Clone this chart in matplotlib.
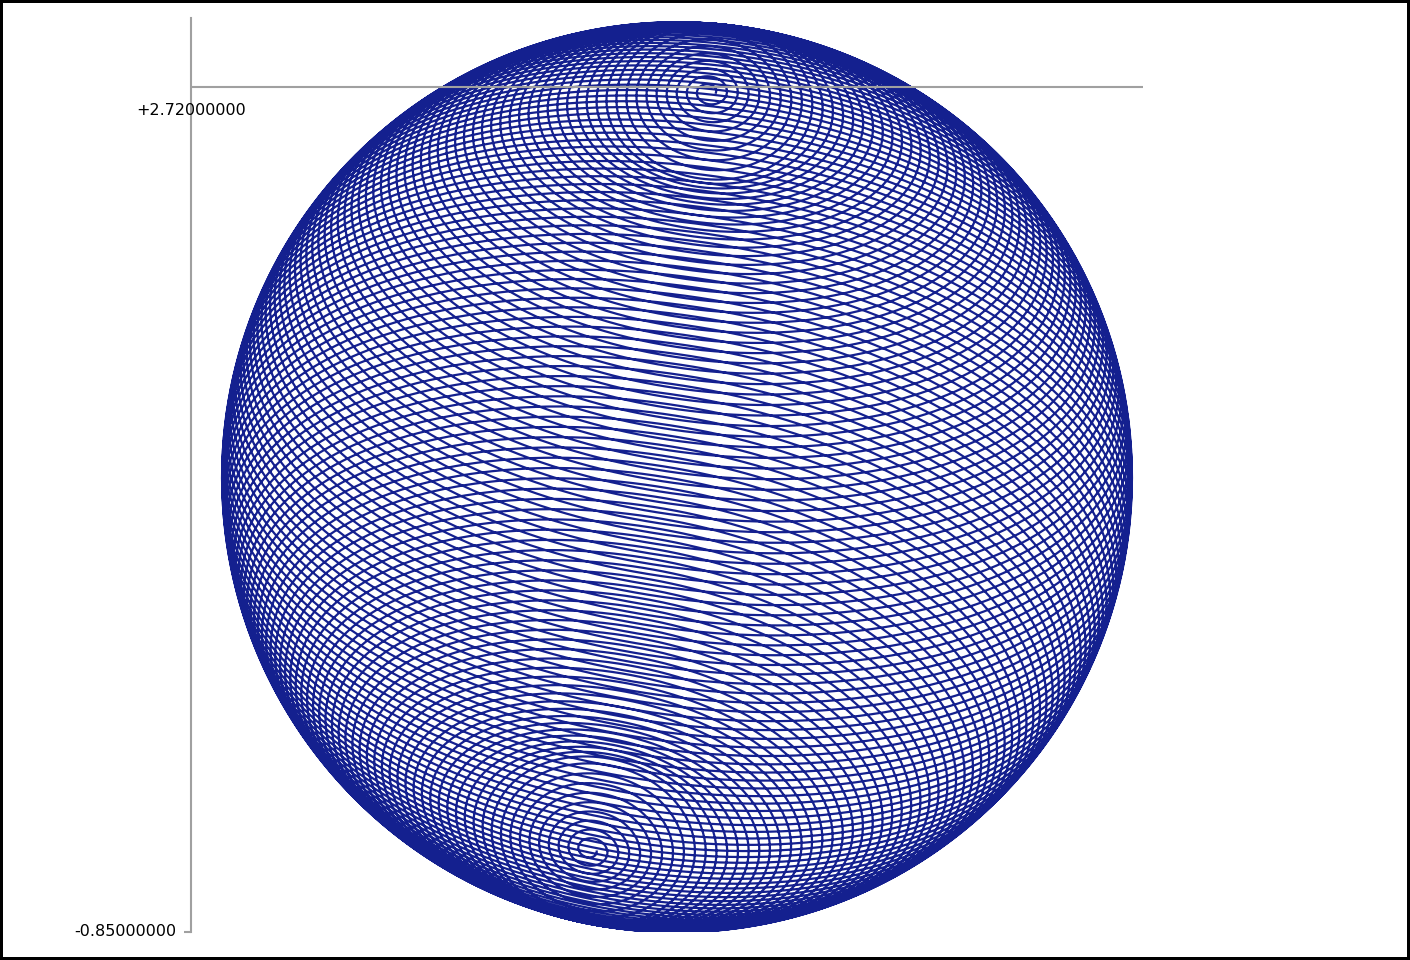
import numpy as np
import matplotlib
matplotlib.use("Agg")
import matplotlib.pyplot as plt

# values (data units, y axis calibrated from the two labels)
tick_values = [-0.85, 2.72]
tick_labels = ["-0.85000000", "+2.72000000"]
ball_center = [0.0, 1.125]          # middle of the round outline
ball_radius = 1.976                 # half of the outline height
top_loop = [0.139, 2.798]           # smallest loop near the top
bottom_loop = [-0.378, -0.494]      # smallest loop near the bottom
n_turns = 135                       # number of loops from top to bottom
smallest_loop = 0.030               # radius of the innermost loops
loop_roundness = 0.80               # height / width of the small loops
guide_y = 2.82                      # grey horizontal line

line_color = "#14208f"
grey = "#a0a0a0"

# pixel scale of the reference: 822 px between the two labels
s = (tick_values[1] - tick_values[0]) / 822.0

fig = plt.figure(figsize=(14.1, 9.6), dpi=100)
fig.patch.set_facecolor("white")
fig.patch.set_edgecolor("black")
fig.patch.set_linewidth(3)

ax = fig.add_axes([191 / 1410, 28 / 960, 952 / 1410, 914 / 960])
ax.set_ylim(tick_values[0], tick_values[0] + 914 * s)
x0 = -486 * s
ax.set_xlim(x0, x0 + 952 * s)

# loops wound from the top loop to the bottom loop, each one kept inside the
# round outline
cx, cy = ball_center
R = ball_radius
ut = np.array([top_loop[0] - cx, top_loop[1] - cy]) / R
ub = -np.array([bottom_loop[0] - cx, bottom_loop[1] - cy]) / R
a_t, a_b = np.arctan2(ut[1], ut[0]), np.arctan2(ub[1], ub[0])
P_t, P_b = np.hypot(*ut), np.hypot(*ub)

th0 = smallest_loop / R
t = np.linspace(0, 1, n_turns * 600)
th = th0 + t * (np.pi - 2 * th0)
ph = 2 * np.pi * n_turns * t

ang = a_t + (a_b - a_t) * t
P = P_t + (P_b - P_t) * t
ex, ey = np.cos(ang), np.sin(ang)
nx, ny = ey, -ex
pz = np.sqrt(1 - P ** 2)
A = np.sin(th)
c = np.abs(np.cos(th))
k = np.where(np.arctan2(A, c) < np.arccos(P),
             np.minimum(loop_roundness, (1 - P * c) / A), pz)
m = P * np.cos(th)
u = m + k * A * np.sin(ph)          # along the loop axis
q = A * np.cos(ph)                  # across it
X = u * ex + q * nx
Y = u * ey + q * ny
ax.plot(cx + R * X, cy + R * Y, color=line_color, lw=1.6,
        solid_joinstyle="round")

ax.axhline(guide_y, xmin=0, xmax=1, color=grey, lw=1.5)

for side in ["top", "right", "bottom"]:
    ax.spines[side].set_visible(False)
ax.spines["left"].set_color(grey)
ax.spines["left"].set_linewidth(1.5)
ax.set_xticks([])
ax.set_yticks([tick_values[0]])
ax.set_yticklabels([])
ax.tick_params(axis="y", length=5, width=1.5, color=grey)

trans = ax.get_yaxis_transform()
ax.text(-15 / 952, tick_values[0], tick_labels[0], transform=trans,
        ha="right", va="center", fontsize=11.5)
ax.text(-55 / 952, tick_values[1], tick_labels[1], transform=trans,
        ha="left", va="center", fontsize=11.5)

fig.savefig("out.png", dpi=100)
